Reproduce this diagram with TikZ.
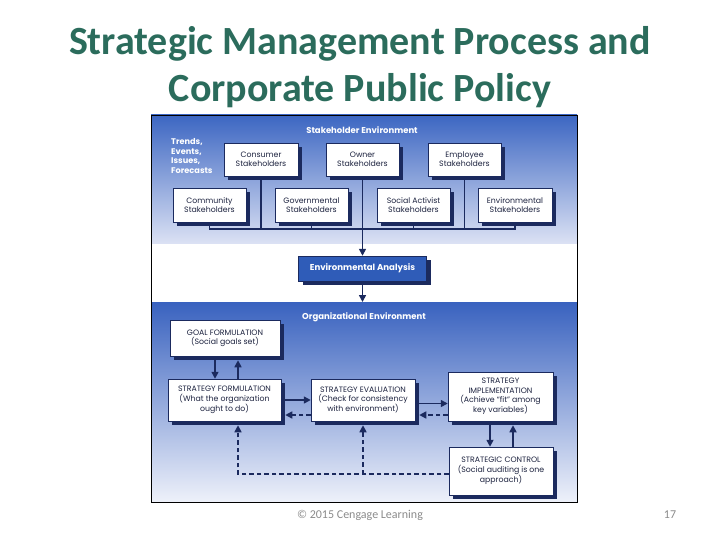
\documentclass[tikz,border=0pt]{standalone}
\usepackage{fontspec}
\setmainfont{Carlito}
\newfontfamily\diag{Poppins}
\usetikzlibrary{arrows.meta,shadows,calc}
\definecolor{titlec}{HTML}{2B6C5C}
\definecolor{navy}{HTML}{1B2A5E}
\definecolor{boxtext}{HTML}{1E2440}
\definecolor{envblue}{HTML}{2F5CB8}
\definecolor{stktop}{HTML}{3C66C2}
\definecolor{stkbot}{HTML}{DCE2F4}
\definecolor{orgtop}{HTML}{3962BF}
\definecolor{orgbot}{HTML}{EEF1FA}
\definecolor{footc}{HTML}{8A8A8A}
\begin{document}
\begin{tikzpicture}[x=1pt,y=-1pt,
  titletext/.style={font=\bfseries\fontsize{40}{46}\selectfont, text=titlec, anchor=base},
  wbox/.style={draw=navy, line width=0.5pt, fill=white,
    general shadow={fill=navy, shadow xshift=4pt, shadow yshift=-4pt},
    font=\diag\fontsize{7.8}{9.2}\selectfont, text=boxtext, align=center, inner sep=1pt},
  bbox/.style={draw=navy, line width=0.5pt, fill=envblue,
    general shadow={fill=navy, shadow xshift=4pt, shadow yshift=-4pt},
    font=\diag\bfseries\fontsize{8.6}{10}\selectfont, text=white, align=center, inner sep=1pt},
  header/.style={font=\diag\bfseries\fontsize{8.5}{10}\selectfont, text=white},
  conn/.style={draw=navy, line width=1.6pt},
  arr/.style={conn, -{Triangle[length=7pt,width=7pt]}},
  darr/.style={arr, dash pattern=on 4.5pt off 3pt}
]
\useasboundingbox (0,0) rectangle (720,540);
% title
\node[titletext] (t1) at (360,55) {Strategic Management Process and};
\node[titletext] (t2) at (360,102) {Corporate Public Policy};
% backgrounds
\shade[top color=stktop, bottom color=stkbot] (151,115) rectangle (577,244);
\fill[white] (151,244) rectangle (577,302);
\shade[top color=orgtop, bottom color=orgbot] (151,302) rectangle (577,502);
\draw[black, line width=0.8pt] (151,115) rectangle (577,502);
% headers
\node[header] (sh) at (362,130) {Stakeholder Environment};
\node[header] (oh) at (364,317) {Organizational Environment};
\node[header, anchor=north west, align=left, font=\diag\bfseries\fontsize{8.2}{9.8}\selectfont, inner sep=0pt] (tr) at (171,138) {Trends,\\Events,\\Issues,\\Forecasts};
% connectors (stakeholders)
\coordinate (bus) at (362.5,229);
\coordinate (orgentry) at (362.5,302);
% stakeholder boxes
\node[wbox, minimum width=74pt, minimum height=33pt] (consumer) at (261,159.5) {Consumer\\Stakeholders};
\node[wbox, minimum width=73pt, minimum height=33pt] (owner) at (362.5,159.5) {Owner\\Stakeholders};
\node[wbox, minimum width=73pt, minimum height=33pt] (employee) at (464.5,159.5) {Employee\\Stakeholders};
\node[wbox, minimum width=73pt, minimum height=34pt] (community) at (209.5,205) {Community\\Stakeholders};
\node[wbox, minimum width=73pt, minimum height=34pt] (government) at (311.5,205) {Governmental\\Stakeholders};
\node[wbox, minimum width=73pt, minimum height=34pt] (social) at (413.5,205) {Social Activist\\Stakeholders};
\node[wbox, minimum width=74pt, minimum height=34pt] (environmental) at (515,205) {Environmental\\Stakeholders};
\node[bbox, minimum width=128pt, minimum height=25pt] (envan) at (362.5,268.5) {Environmental Analysis};
% organizational boxes
\node[wbox, minimum width=110pt, minimum height=36pt] (goal) at (225,338) {GOAL FORMULATION\\(Social goals set)};
\node[wbox, minimum width=113pt, minimum height=42pt] (sf) at (224.5,400) {STRATEGY FORMULATION\\(What the organization\\ought to do)};
\node[wbox, minimum width=104pt, minimum height=42pt] (se) at (363,400) {STRATEGY EVALUATION\\(Check for consistency\\with environment)};
\node[wbox, minimum width=105pt, minimum height=49pt] (si) at (500.5,396.5) {STRATEGY\\IMPLEMENTATION\\(Achieve “fit” among\\key variables)};
\node[wbox, minimum width=104pt, minimum height=48pt] (sc) at (501,471) {STRATEGIC CONTROL\\(Social auditing is one\\approach)};
% stakeholder lines
\draw[conn] (community.south) |- (bus) -| (environmental.south);
\draw[conn] (consumer.south) -- (consumer.south |- bus);
\draw[conn] (government.south) -- (government.south |- bus);
\draw[conn] (social.south) -- (social.south |- bus);
\draw[conn] (employee.south) -- (employee.south |- bus);
\draw[conn] (owner.south) -- (bus);
\draw[arr] (bus) -- (envan.north);
\draw[arr] ([yshift=-4pt]envan.south) -- (orgentry);
% organizational arrows
\draw[arr] ([xshift=-10pt,yshift=-4pt]goal.south) -- ([xshift=-10pt]goal.south |- sf.north);
\draw[arr] ([xshift=13pt]goal.south |- sf.north) -- ([xshift=13pt,yshift=-4pt]goal.south);
\draw[arr] ([xshift=4pt]sf.east) -- (se.west);
\draw[darr] ([yshift=-15pt]se.west) -- ([xshift=4pt,yshift=-15pt]se.west -| sf.east);
\draw[arr] ([xshift=4pt,yshift=-3.5pt]se.east) -- ([yshift=-3.5pt]se.east -| si.west);
\draw[darr] ([yshift=-18.5pt]si.west) -- ([xshift=4pt,yshift=-18.5pt]si.west -| se.east);
\draw[arr] ([xshift=-10.5pt,yshift=-4pt]si.south) -- ([xshift=-10.5pt]si.south |- sc.north);
\draw[arr] ([xshift=12.5pt]si.south |- sc.north) -- ([xshift=12.5pt,yshift=-4pt]si.south);
\coordinate (fbl) at (238,474);
\coordinate (fbm) at (363,474);
\draw[darr] ([yshift=-3pt]sc.west) -- (fbl) -- ([yshift=-4pt]sf.south -| fbl);
\draw[darr] (fbm) -- ([yshift=-4pt]se.south);
% footer
\node[font=\fontsize{12}{14}\selectfont, text=footc] (foot) at (360,515) {© 2015 Cengage Learning};
\node[font=\fontsize{12}{14}\selectfont, text=footc] (pg) at (670,515) {17};
\end{tikzpicture}
\end{document}
